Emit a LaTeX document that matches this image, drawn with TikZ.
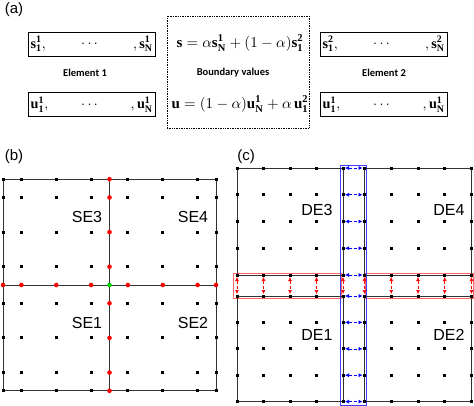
\documentclass[tikz,border=0pt]{standalone}
\usepackage{graphicx}
\usepackage{fontspec}
\setmainfont{Liberation Serif}
\newfontfamily\arialf{Liberation Sans}
\newfontfamily\calf{Carlito}
\usetikzlibrary{arrows.meta}
\newcommand{\bo}[1]{\mathbf{#1}}
\newcommand{\mth}[2][1.42]{\scalebox{#1}{$#2$}}
\tikzset{
  gline/.style={line width=0.9pt, draw=black!80},
  bsq/.style={rectangle, fill=black, inner sep=0pt, minimum size=3pt, draw=none},
  rdot/.style={circle, fill=red, inner sep=0pt, minimum size=4.6pt, draw=none},
  gdot/.style={circle, fill=green!85!black, inner sep=0pt, minimum size=4.6pt, draw=none},
  elbox/.style={draw, line width=1pt, minimum width=127pt, minimum height=24pt, inner sep=0pt},
  bndbox/.style={draw, densely dotted, line width=0.7pt},
  mtxt/.style={inner sep=0pt},
  plab/.style={font=\arialf\fontsize{15}{15}\selectfont, inner sep=0pt},
  elab/.style={font=\arialf\fontsize{16}{16}\selectfont, inner sep=0pt},
  blab/.style={font=\calf\bfseries\fontsize{10.5}{12}\selectfont, inner sep=0pt},
  redarr/.style={draw=red, densely dashed, line width=0.6pt, {Latex[length=4pt,width=4pt]}-{Latex[length=4pt,width=4pt]}},
  bluearr/.style={draw=blue, densely dashed, line width=0.6pt, {Latex[length=4pt,width=4pt]}-{Latex[length=4pt,width=4pt]}},
  redbox/.style={draw=red!60, line width=1.5pt},
  bluebox/.style={draw=blue!75, line width=1pt},
}
\begin{document}
\begin{tikzpicture}[x=1pt,y=-1pt]
\useasboundingbox (0,0) rectangle (474,405);

% ---------------- panel (a) ----------------
\node[plab] (la) at (14,10) {(a)};

\node[elbox] (s1) at (91.5,44) {};
\node[elbox] (u1) at (91.5,104.5) {};
\node[elbox] (s2) at (383.5,44) {};
\node[elbox] (u2) at (383.5,104.5) {};
\node[bndbox, minimum width=142pt, minimum height=112pt, inner sep=0pt] (bv) at (238,72) {};

\node[mtxt, anchor=west] (s1a) at ([xshift=3pt]s1.west) {\mth{\bo{s}^{\bo{1}}_{\bo{1}},}};
\node[mtxt] (s1b) at ([xshift=-2pt]s1.center) {\mth{\dots}};
\node[mtxt, anchor=east] (s1c) at ([xshift=-2.5pt]s1.east) {\mth{,\bo{s}^{\bo{1}}_{\bo{N}}}};

\node[mtxt, anchor=west] (u1a) at ([xshift=3pt]u1.west) {\mth{\bo{u}^{\bo{1}}_{\bo{1}},}};
\node[mtxt] (u1b) at ([xshift=-2pt]u1.center) {\mth{\dots}};
\node[mtxt, anchor=east] (u1c) at ([xshift=-2.5pt]u1.east) {\mth{,\bo{u}^{\bo{1}}_{\bo{N}}}};

\node[mtxt, anchor=west] (s2a) at ([xshift=3pt]s2.west) {\mth{\bo{s}^{\bo{2}}_{\bo{1}},}};
\node[mtxt] (s2b) at ([xshift=-2pt]s2.center) {\mth{\dots}};
\node[mtxt, anchor=east] (s2c) at ([xshift=-2.5pt]s2.east) {\mth{,\bo{s}^{\bo{2}}_{\bo{N}}}};

\node[mtxt, anchor=west] (u2a) at ([xshift=3pt]u2.west) {\mth{\bo{u}^{\bo{1}}_{\bo{1}},}};
\node[mtxt] (u2b) at ([xshift=-2pt]u2.center) {\mth{\dots}};
\node[mtxt, anchor=east] (u2c) at ([xshift=-2.5pt]u2.east) {\mth{,\bo{u}^{\bo{1}}_{\bo{N}}}};

\node[blab] (e1) at (85,73) {Element 1};
\node[blab] (e2) at (384,73) {Element 2};
\node[blab] (bvl) at (233,73) {Boundary values};

\node[mtxt] (fs) at (240,43) {\mth[1.5]{\bo{s}=\alpha\bo{s}^{\bo{1}}_{\bo{N}}+(1-\alpha)\bo{s}^{\bo{2}}_{\bo{1}}}};
\node[mtxt] (fu) at (240,104) {\mth[1.5]{\bo{u}=(1-\alpha)\bo{u}^{\bo{1}}_{\bo{N}}+\alpha\,\bo{u}^{\bo{2}}_{\bo{1}}}};

% ---------------- panel (b) ----------------
\node[plab] (lb) at (14,157) {(b)};
\draw[gline] (3,179.2) rectangle (216,390.8);
\draw[gline] (109.5,179.2) -- (109.5,390.8);
\draw[gline] (3,285) -- (216,285);
\foreach \x [count=\i] in {3,21.39,56.25,91.1,109.5,127.89,162.75,197.6,216}{
  \foreach \y [count=\j] in {179.2,197.47,232.1,266.73,285,303.27,337.9,372.53,390.8}{
    \ifnum\i=5
      \ifnum\j=5 \node[gdot] at (\x,\y) {}; \else \node[rdot] at (\x,\y) {}; \fi
    \else
      \ifnum\j=5 \node[rdot] at (\x,\y) {}; \else \node[bsq] at (\x,\y) {}; \fi
    \fi
  }
}
\node[elab] (se3) at (87,217) {SE3};
\node[elab] (se4) at (193,217) {SE4};
\node[elab] (se1) at (87,322.5) {SE1};
\node[elab] (se2) at (193,322.5) {SE2};

% ---------------- panel (c) ----------------
\node[plab] (lc) at (246,157) {(c)};
\draw[redbox] (233.5,273.5) rectangle (341,298.5);
\draw[redbox] (365.5,273.5) rectangle (473.3,298.5);
\draw[bluebox] (340,165.7) rectangle (366,405.5);

\draw[gline] (237,168) rectangle (343,275);
\draw[gline] (364.5,168) rectangle (471.5,275);
\draw[gline] (237,296) rectangle (343,401.6);
\draw[gline] (364.5,296) rectangle (471.5,401.6);

\foreach \x in {237,263.5,290,316.5,343,364.5,391.25,418,444.75,471.5}{
  \draw[redarr] (\x,277) -- (\x,294);
}
\foreach \y in {168,194.75,221.5,248.25,275,296,322.4,348.8,375.2,401.6}{
  \draw[bluearr] (345,\y) -- (362.5,\y);
}
\foreach \x in {237,263.5,290,316.5,343,364.5,391.25,418,444.75,471.5}{
  \foreach \y in {168,194.75,221.5,248.25,275,296,322.4,348.8,375.2,401.6}{
    \node[bsq] at (\x,\y) {};
  }
}
\node[elab] (de3) at (317,209.5) {DE3};
\node[elab] (de4) at (449,209.5) {DE4};
\node[elab] (de1) at (317,335) {DE1};
\node[elab] (de2) at (449,335) {DE2};
\end{tikzpicture}
\end{document}
